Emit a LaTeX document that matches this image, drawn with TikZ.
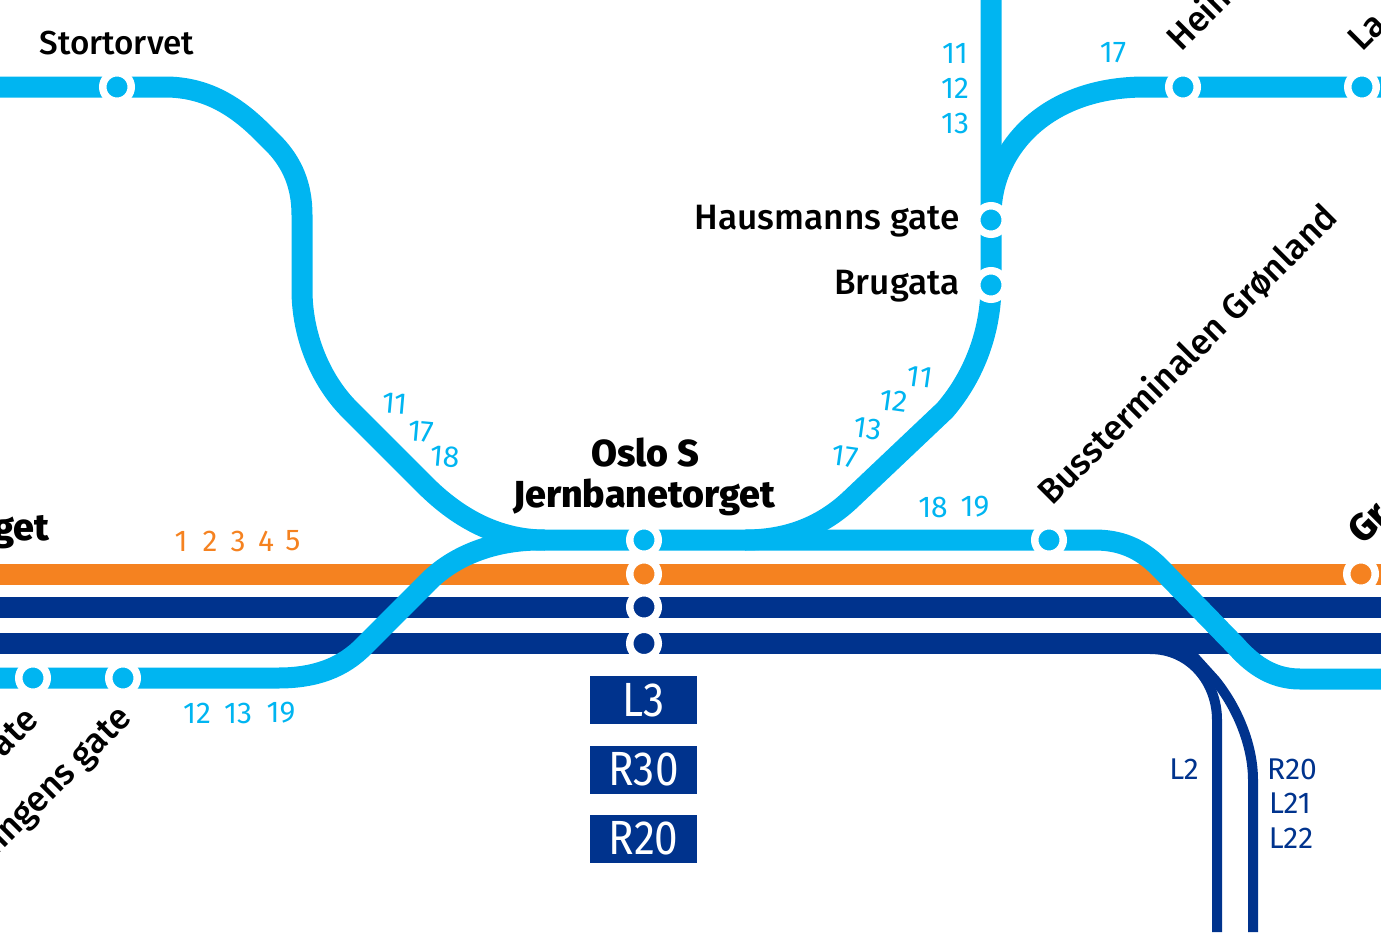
\documentclass[tikz,border=0pt]{standalone}
\usepackage{fontspec}
\setmainfont{Fira Sans}
\newfontfamily\namefont{Fira Sans Medium}
\newfontfamily\heavyfont{Fira Sans ExtraBold}
\newfontfamily\boxfont[FakeStretch=0.88]{Fira Sans}
\usepackage{tikz}
\definecolor{tbanecyan}{HTML}{00B5F1}
\definecolor{trikkorange}{HTML}{F58220}
\definecolor{togblue}{HTML}{00338D}
\tikzset{
	cyanline/.style={draw=tbanecyan,line width=10.5pt},
	orangeline/.style={draw=trikkorange,line width=10.5pt},
	blueline/.style={draw=togblue,line width=10.5pt},
	thinline/.style={draw=togblue,line width=5pt},
	stoppoint/.style={circle,draw=white,line width=3.75pt,minimum size=14.25pt,inner sep=0pt},
	stopname/.style={inner sep=0pt,font=\namefont\fontsize{17.6}{18}\selectfont,text=black},
	boldname/.style={stopname,font=\heavyfont\fontsize{18.8}{18}\selectfont},
	numcyan/.style={inner sep=0pt,font=\fontsize{15}{15}\selectfont,text=tbanecyan},
	numorange/.style={inner sep=0pt,font=\fontsize{15}{15}\selectfont,text=trikkorange},
	numblue/.style={inner sep=0pt,font=\fontsize{15}{15}\selectfont,text=togblue},
	linebox/.style={fill=togblue,text=white,minimum width=53.5pt,minimum height=24pt,inner sep=0pt,font=\boxfont\fontsize{24}{24}\selectfont}
}
\begin{document}
\begin{tikzpicture}[x=0.5pt,y=-0.5pt]
	\useasboundingbox (0,0) rectangle (1381,932);
	\clip (0,0) rectangle (1381,932);
	% lines below
	\draw[orangeline] (0,574) -- (1381,574);
	\draw[blueline] (0,607) -- (1381,607);
	\draw[blueline] (0,643.5) -- (1381,643.5);
	\draw[thinline] (1217,932) -- (1217,720) .. controls (1217,682) and (1190,649) .. (1150,649);
	\draw[thinline] (1253,932) -- (1253,780) .. controls (1253,745) and (1237,707) .. (1215,680) -- (1186,648);
	% lines above
	\draw[cyanline] (0,87) -- (165,87) .. controls (205,87) and (235,105) .. (262,132) -- (275,145) .. controls (292,163) and (302,185) .. (302,215) -- (302,290) .. controls (302,335) and (320,380) .. (350,410) -- (425,485) .. controls (460,520) and (500,540) .. (545,540);
	\draw[cyanline] (0,678) -- (278,678) .. controls (315,678) and (343,668) .. (365,645) -- (425,585) .. controls (450,558) and (490,540) .. (540,540);
	\draw[cyanline] (540,540) -- (1095,540) .. controls (1125,540) and (1145,552) .. (1162,570) -- (1235,645) .. controls (1250,662) and (1270,679) .. (1300,679) -- (1381,679);
	\draw[cyanline] (991,0) -- (991,285) .. controls (991,330) and (975,375) .. (945,410) -- (850,500) .. controls (820,528) and (785,540) .. (745,540);
	\draw[cyanline] (991,215) .. controls (991,150) and (1045,87) .. (1145,87) -- (1381,87);
	% stops
	\node[stoppoint,fill=tbanecyan] (stortorvet) at (117,87) {};
	\node[stoppoint,fill=tbanecyan] (hausmanns) at (991,220) {};
	\node[stoppoint,fill=tbanecyan] (brugata) at (991,285) {};
	\node[stoppoint,fill=tbanecyan] (heimstop) at (1183,87) {};
	\node[stoppoint,fill=tbanecyan] (lastop) at (1362,87) {};
	\node[stoppoint,fill=tbanecyan] (osloa) at (644,540) {};
	\node[stoppoint,fill=trikkorange] (oslob) at (644,574) {};
	\node[stoppoint,fill=togblue] (osloc) at (644,607) {};
	\node[stoppoint,fill=togblue] (oslod) at (644,643.5) {};
	\node[stoppoint,fill=tbanecyan] (bussterminal) at (1049,540) {};
	\node[stoppoint,fill=trikkorange] (grstop) at (1361,574) {};
	\node[stoppoint,fill=tbanecyan] (atestop) at (33,678) {};
	\node[stoppoint,fill=tbanecyan] (gatestop) at (123,678) {};
	% stop names
	\node[stopname,font=\namefont\fontsize{16.6}{18}\selectfont] (stortorvetname) at (117,43) {Stortorvet};
	\node[stopname,anchor=east] (hausmannsname) at (960,221) {Hausmanns gate};
	\node[stopname,anchor=east] (brugataname) at (960,286) {Brugata};
	\node[boldname] (osloname) at (645,453) {Oslo S};
	\node[boldname] (jernbanename) at (644,497) {Jernbanetorget};
	\node[boldname,anchor=east] (getname) at (50,532) {get};
	\node[stopname,anchor=base west,rotate=45] (bussname) at (1052,507) {Bussterminalen Grønland};
	\node[stopname,anchor=base west,rotate=45] (heimname) at (1181,53) {Hein};
	\node[stopname,anchor=base west,rotate=45] (laname) at (1362,53) {La};
	\node[boldname,anchor=base west,rotate=45] (grname) at (1363,546) {Gr};
	\node[stopname,anchor=base east,rotate=45] (atename) at (40,722) {ate};
	\node[stopname,anchor=base east,rotate=45] (gatename) at (133,720) {ningens gate};
	% line numbers
	\node[numorange] (o1) at (181,541) {1};
	\node[numorange] (o2) at (210,541) {2};
	\node[numorange] (o3) at (238,541) {3};
	\node[numorange] (o4) at (266,541) {4};
	\node[numorange] (o5) at (293,541) {5};
	\node[numcyan,rotate=-5] (na11) at (395,404) {11};
	\node[numcyan,rotate=-5] (na17) at (421,432) {17};
	\node[numcyan,rotate=-5] (na18) at (445,457) {18};
	\node[numcyan,rotate=-8] (nb11) at (920,377) {11};
	\node[numcyan,rotate=-8] (nb12) at (894,401) {12};
	\node[numcyan,rotate=-8] (nb13) at (868,429) {13};
	\node[numcyan,rotate=-8] (nb17) at (845,457) {17};
	\node[numcyan] (nc11) at (955,53) {11};
	\node[numcyan] (nc12) at (955,88) {12};
	\node[numcyan] (nc13) at (955,123) {13};
	\node[numcyan] (nd17) at (1113,53) {17};
	\node[numcyan] (ne18) at (933,507) {18};
	\node[numcyan] (ne19) at (975,507) {19};
	\node[numcyan] (nf12) at (197,713) {12};
	\node[numcyan] (nf13) at (238,713) {13};
	\node[numcyan] (nf19) at (281,713) {19};
	\node[numblue] (l2) at (1184,769) {L2};
	\node[numblue] (r20) at (1292,769) {R20};
	\node[numblue] (l21) at (1290,803) {L21};
	\node[numblue] (l22) at (1291,838) {L22};
	% boxes
	\node[linebox] (boxl3) at (643.5,700) {L3};
	\node[linebox] (boxr30) at (643.5,769.5) {R30};
	\node[linebox] (boxr20) at (643.5,838.5) {R20};
\end{tikzpicture}
\end{document}
